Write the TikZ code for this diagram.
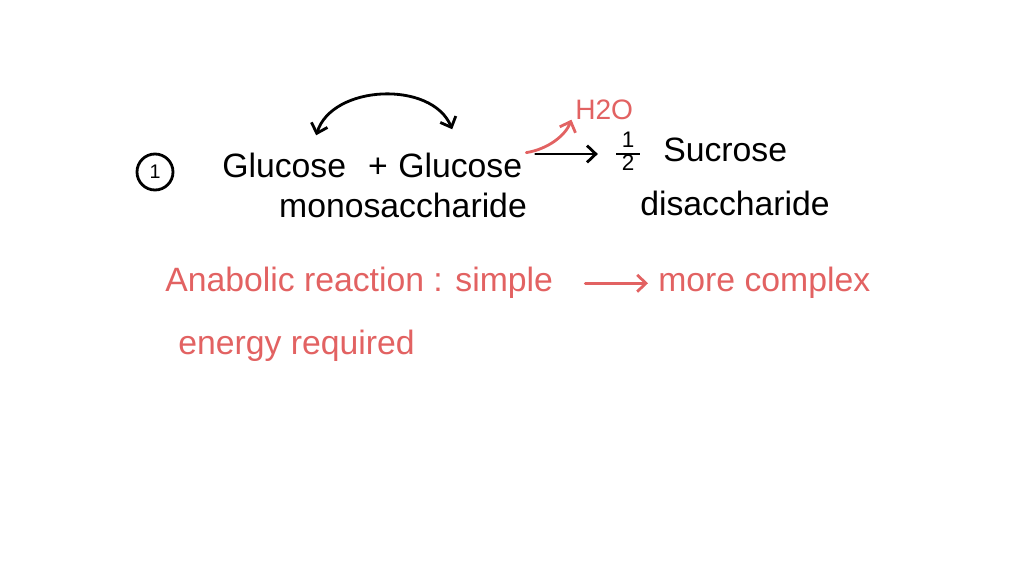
\documentclass[tikz,border=0pt]{standalone}
\usepackage{fontspec}
\setmainfont{Liberation Sans}
\usepackage{xcolor}
\usetikzlibrary{calc,arrows,arrows.meta}
\definecolor{redink}{RGB}{226,98,98}

\begin{document}
\begin{tikzpicture}[x=0.025cm, y=-0.025cm,
        >={Straight Barb[length=0.22cm, width=0.42cm]},
        ink/.style={line width=2pt, line cap=round},
        txt/.style={inner sep=0pt, anchor=base west, font=\fontsize{24}{28}\selectfont}]
        \useasboundingbox (0,0) rectangle (1024,576);
        % the reaction
        \node [draw, circle, ink, minimum size=0.9cm, inner sep=0pt, font=\fontsize{14}{16}\selectfont] (num) at (155,172) {1};
        \node [txt] (g1) at (222,178) {Glucose};
        \node [txt, anchor=base] (plus) at (378,178) {+};
        \node [txt] (g2) at (398,178) {Glucose};
        \node [txt, anchor=base] (mono) at (403,218) {monosaccharide};
        \node [inner sep=0pt, font=\fontsize{16}{16}\selectfont] (half) at (628,154) {\setlength{\arrayrulewidth}{1.8pt}\renewcommand{\arraystretch}{0.8}\begin{tabular}{@{\hspace{4pt}}c@{\hspace{4pt}}}1\\\hline 2\end{tabular}};
        \node [txt] (suc) at (663,162) {Sucrose};
        \node [txt, anchor=base] (di) at (735,216) {disaccharide};
        \node [txt, text=redink, font=\fontsize{20}{24}\selectfont] (h2o) at (575,120) {H2O};
        \draw [ink, <->] ([xshift=0.8cm,yshift=0.45cm]g1.north) to [bend left=70] ([xshift=-0.2cm,yshift=0.6cm]g2.north);
        \draw [ink, ->, shorten <=0.33cm, shorten >=0.45cm] (g2.east |- half) -- (half.west);
        \draw [ink, redink, ->, shorten <=0.1cm, shorten >=0.25cm] (g2.north east) to [bend right=30] (h2o.west);
        % what kind of reaction
        \node [txt, text=redink] (ana) at (165,292) {Anabolic reaction : simple};
        \node [txt, text=redink] (cmplx) at (658,292) {more complex};
        \node [txt, text=redink] (energy) at (178,355) {energy required};
        \draw [ink, redink, ->, shorten <=0.8cm, shorten >=0.25cm] (ana.east) -- (cmplx.west);
    \end{tikzpicture}
\end{document}
